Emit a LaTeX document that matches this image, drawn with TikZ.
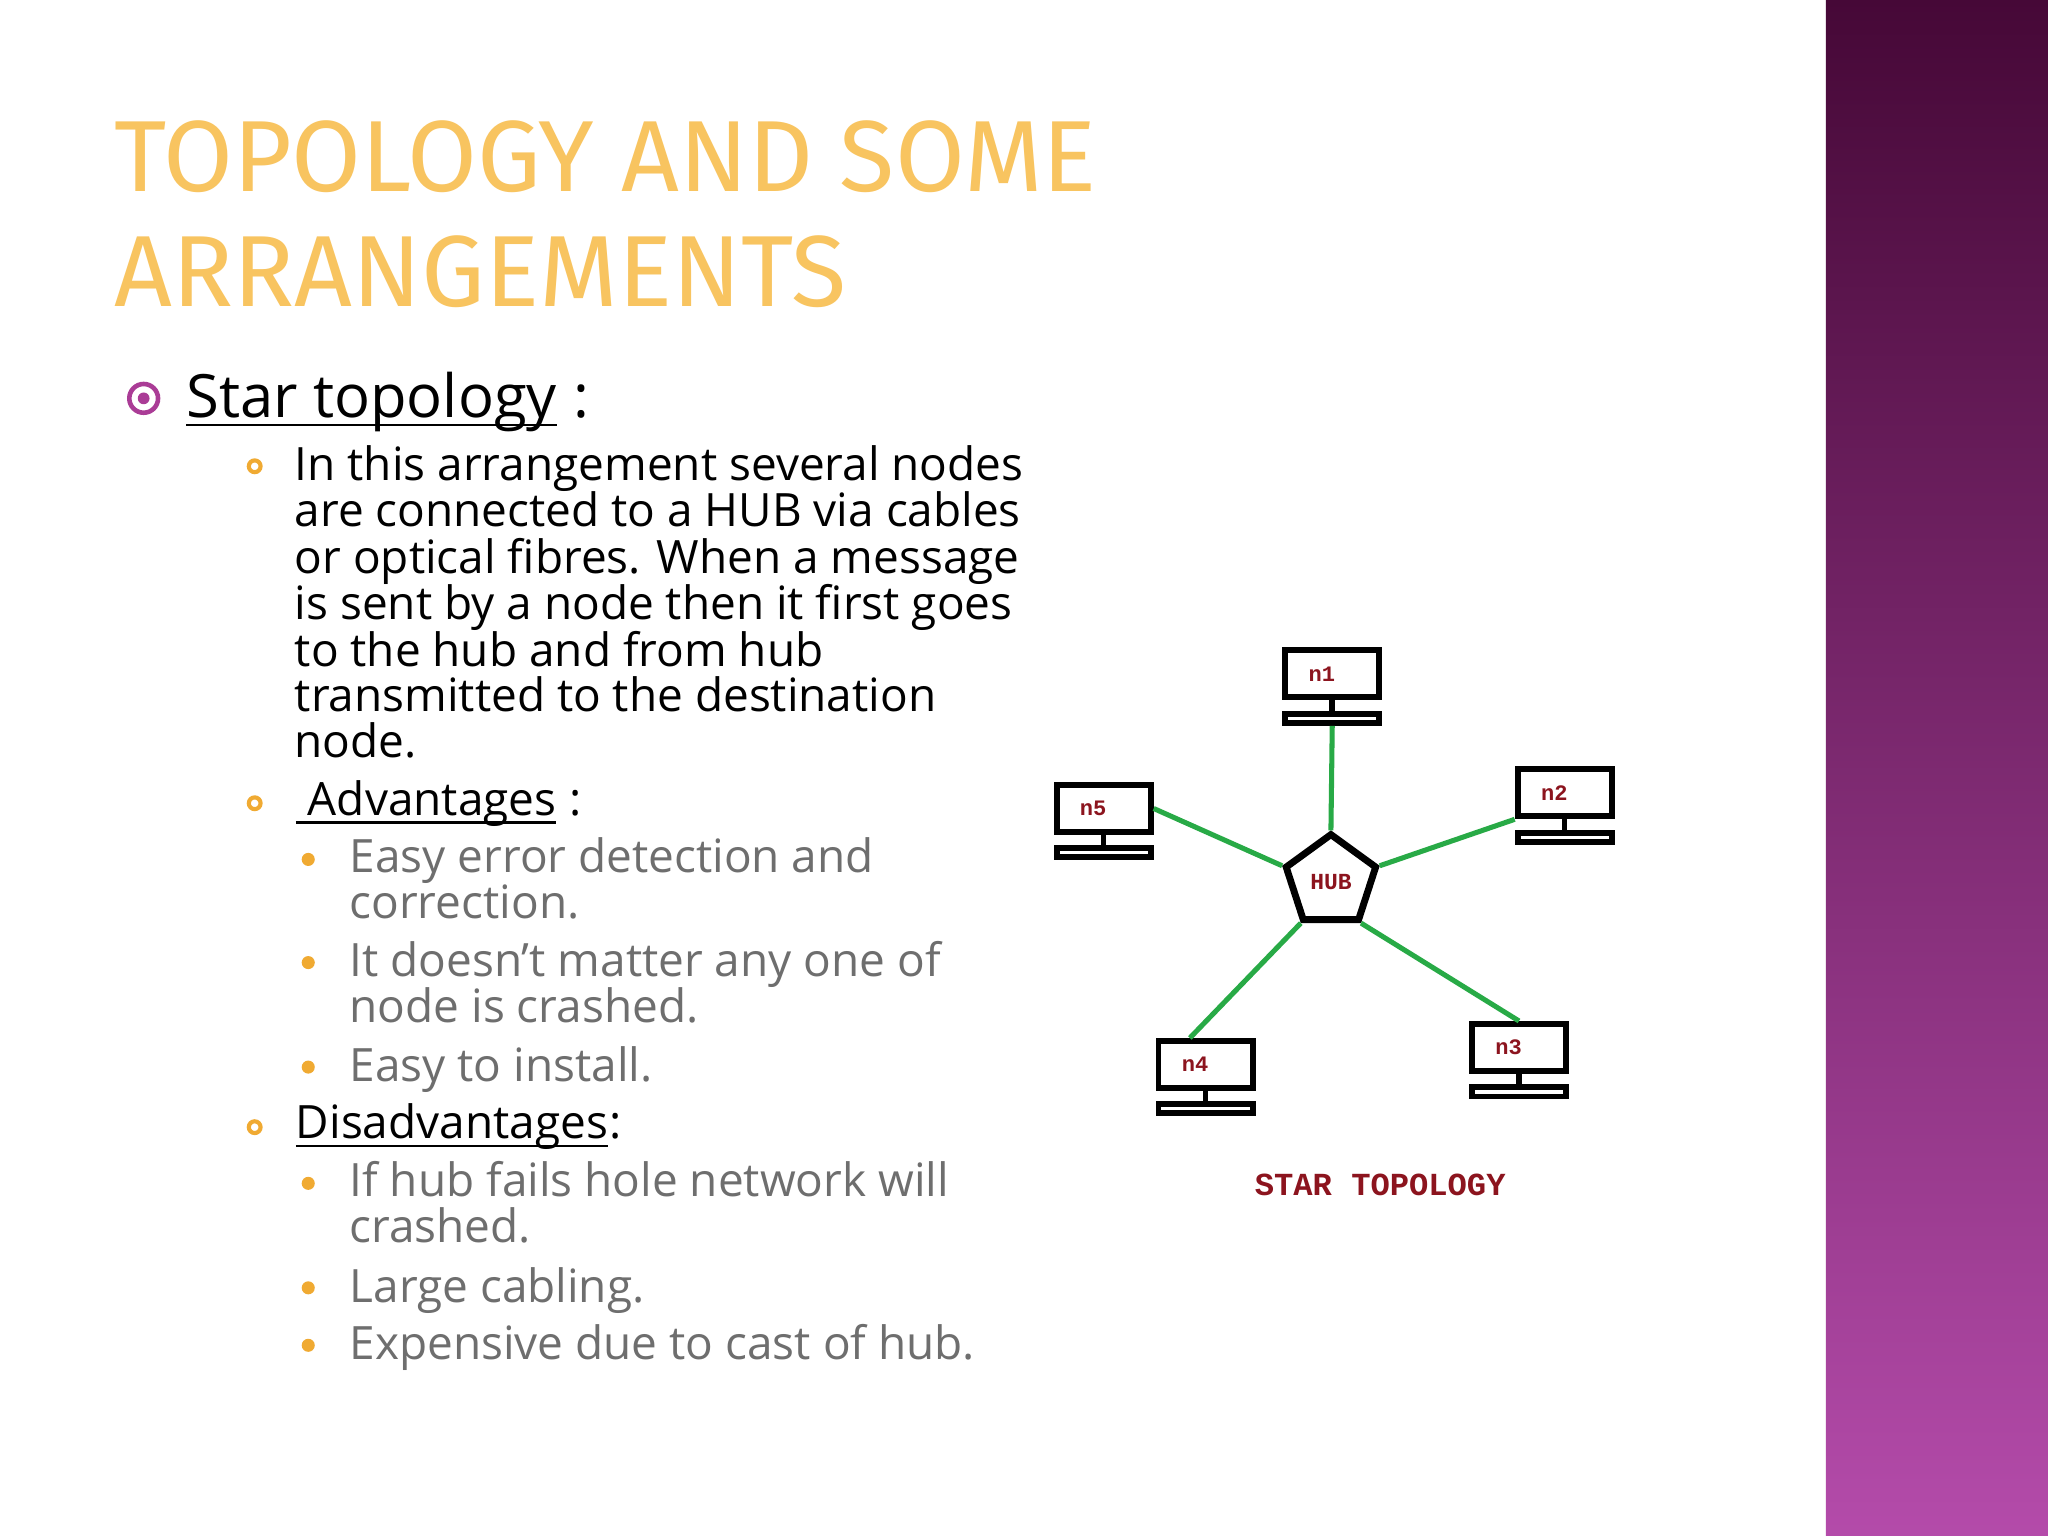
\documentclass[tikz,border=0pt]{standalone}
\usepackage{fontspec}
\setmainfont{Open Sans}
\newfontfamily\titlefont{Fira Sans}
\newfontfamily\monofont{Liberation Mono}
\usetikzlibrary{shapes.geometric}
\definecolor{gtxt}{RGB}{110,110,110}
\definecolor{org}{RGB}{240,170,50}
\definecolor{ttl}{RGB}{248,196,96}
\definecolor{purp}{RGB}{170,60,150}
\definecolor{dred}{RGB}{140,20,30}
\definecolor{grn}{RGB}{40,170,70}
\newcommand{\ulx}[1]{\tikz[baseline=(u.base)]\node[inner sep=0,outer sep=0](u){#1};\hspace{0pt}}
\newcommand{\myul}[1]{\begin{tikzpicture}[baseline=(u.base)]\node[inner sep=0,outer sep=0](u){\strut #1};\draw[line width=0.5pt]([yshift=-1.6pt]u.base west)--([yshift=-1.6pt]u.base east);\end{tikzpicture}}
\begin{document}
\begin{tikzpicture}[x=0.01cm,y=-0.01cm,
  tl/.style={anchor=base west,inner sep=0,font=\titlefont\fontsize{22}{22}\selectfont,text=ttl},
  bl/.style={anchor=base west,inner sep=0,font=\fontsize{10}{10}\selectfont},
  gl/.style={bl,text=gtxt},
  ob/.style={circle,draw=org,line width=0.9pt,minimum size=0.09cm,inner sep=0},
  db/.style={circle,fill=org,minimum size=0.1cm,inner sep=0},
  scr/.style={draw,line width=1.3pt,minimum width=0.72cm,minimum height=0.36cm,inner sep=0},
  bar/.style={draw,line width=1.3pt,minimum width=0.72cm,minimum height=0.07cm,inner sep=0},
  lab/.style={font=\monofont\bfseries\fontsize{4.8}{5}\selectfont,text=dred,inner sep=0},
  cab/.style={grn,line width=1.1pt}]
\useasboundingbox (0,0) rectangle (1568,1176);
\fill[white] (0,0) rectangle (1398,1176);
\shade[top color={rgb,255:red,70;green,8;blue,55},bottom color={rgb,255:red,180;green,75;blue,170}] (1398,0) rectangle (1568,1176);
\node[tl] (t1) at (87,147) {TOPOLOGY AND SOME};
\node[tl] (t2) at (87,235) {ARRANGEMENTS};
\node[circle,draw=purp,line width=1pt,minimum size=0.22cm,inner sep=0] (pb) at (110,305) {};
\fill[purp] (pb) circle (4.5);
\node[anchor=base west,inner sep=0,font=\fontsize{13}{14}\selectfont] (st) at (141,320) {\myul{Star topology}\ :};
\node[ob] (b1) at (195,357) {};
\node[bl] (p1) at (225,368) {In this arrangement several nodes};
\node[bl] (p2) at (225,403) {are connected to a HUB via cables};
\node[bl] (p3) at (225,439) {or optical fibres. When a message};
\node[bl] (p4) at (225,474) {is sent by a node then it first goes};
\node[bl] (p5) at (225,510) {to the hub and from hub};
\node[bl] (p6) at (225,545) {transmitted to the destination};
\node[bl] (p7) at (225,580) {node.};
\node[ob] (b2) at (195,615) {};
\node[bl] (adv) at (225,624) {\myul{\ Advantages} :};
\node[db] (d1) at (236,658) {};
\node[gl] (a1) at (267,668) {Easy error detection and};
\node[gl] (a2) at (267,703) {correction.};
\node[db] (d2) at (236,737) {};
\node[gl] (a3) at (267,748) {It doesn’t matter any one of};
\node[gl] (a4) at (267,783) {node is crashed.};
\node[db] (d3) at (236,817) {};
\node[gl] (a5) at (267,828) {Easy to install.};
\node[ob] (b3) at (195,863) {};
\node[bl] (dis) at (225,872) {\myul{Disadvantages\ }:};
\node[db] (d4) at (236,906) {};
\node[gl] (e1) at (267,916) {If hub fails hole network will};
\node[gl] (e2) at (267,951) {crashed.};
\node[db] (d5) at (236,986) {};
\node[gl] (e3) at (267,997) {Large cabling.};
\node[db] (d6) at (236,1030) {};
\node[gl] (e4) at (267,1041) {Expensive due to cast of hub.};
% diagram
\node[regular polygon,regular polygon sides=5,draw,line width=1.5pt,minimum size=0.72cm,inner sep=0,lab,font=\monofont\bfseries\fontsize{5}{5}\selectfont] (hub) at (1019,675) {HUB};
\foreach \n/\x/\y in {n1/1020/516,n2/1198/607,n3/1163/802,n4/923/815,n5/845/619}{
  \node[scr] (\n) at (\x,\y) {};
  \node[bar] (\n b) at (\x,\y+34) {};
  \draw[line width=1.2pt] (\n.south) -- (\n b.north);
  \node[lab] at (\x-8,\y) {\n};
}
\draw[cab] (hub.corner 1) -- (n1b.south);
\draw[cab] (hub.corner 5) -- (n2.south west);
\draw[cab] (hub.corner 4) -- (n3.north);
\draw[cab] (hub.corner 3) -- ([xshift=-0.12cm]n4.north);
\draw[cab] (hub.corner 2) -- (n5.east);
\node[anchor=base west,inner sep=0,font=\monofont\bfseries\fontsize{7}{7}\selectfont,text=dred] (cap) at (960,915) {STAR\ TOPOLOGY};
\end{tikzpicture}
\end{document}
